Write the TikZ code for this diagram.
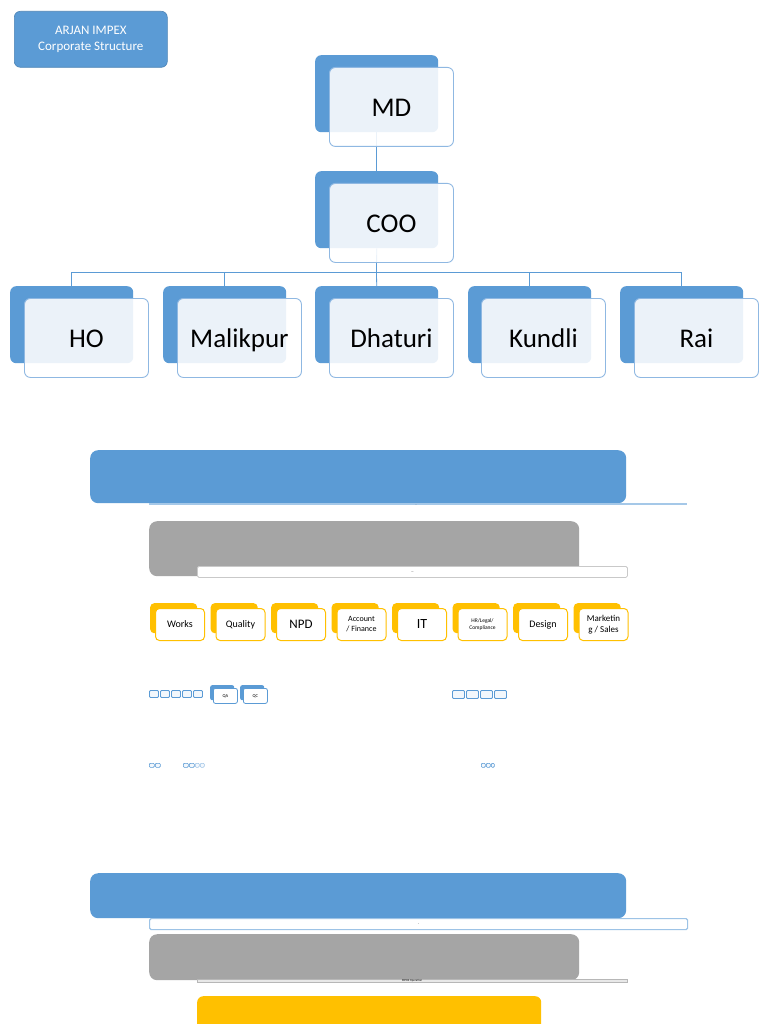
\documentclass[tikz,border=0pt]{standalone}
\usepackage{fontspec}
\setmainfont{Carlito}
\definecolor{bl}{HTML}{5B9BD5}
\definecolor{bf}{HTML}{8FB8E2}
\definecolor{yel}{HTML}{FFC000}
\definecolor{gr}{HTML}{A5A5A5}
\tikzset{
 back/.style={draw=none, fill=bl, rounded corners=6pt, anchor=north west, inner sep=0pt, minimum width=123pt, minimum height=77pt},
 front/.style={draw=bf, line width=0.9pt, fill=white, fill opacity=0.88, text opacity=1, rounded corners=6pt, anchor=north west, inner sep=0pt, minimum width=124pt, minimum height=79pt, font=\fontsize{27}{30}\selectfont, text height=26pt, text depth=6pt},
 conn/.style={draw=bl, line width=0.8pt},
 bar/.style={fill=bl, rounded corners=8pt, anchor=north west, inner sep=0pt},
 gbar/.style={fill=gr, rounded corners=8pt, anchor=north west, inner sep=0pt},
 ythin/.style={anchor=north west, inner sep=0pt},
 yback/.style={fill=yel, rounded corners=4pt, anchor=north west, inner sep=0pt, minimum width=47pt, minimum height=30pt},
 yfront/.style={draw=yel, line width=1pt, fill=white, rounded corners=4pt, anchor=north west, inner sep=0pt, minimum width=49pt, minimum height=32pt, align=center},
 tiny/.style={draw=bl, line width=0.9pt, fill=bl!8, rounded corners=1pt, anchor=north west, inner sep=0pt},
 sback/.style={fill=bl, rounded corners=2pt, anchor=north west, inner sep=0pt, minimum width=24pt, minimum height=15pt},
 sfront/.style={draw=bl, line width=0.8pt, fill=white, rounded corners=2pt, anchor=north west, inner sep=0pt, minimum width=24pt, minimum height=15pt, font=\fontsize{4.5}{5}\selectfont},
}
\begin{document}
\begin{tikzpicture}[x=1pt,y=-1pt]
\clip (0,0) rectangle (768,1024);
\fill[white] (0,0) rectangle (768,1024);

% title
\node[fill=bl, draw=bl!85!black, line width=0.6pt, rounded corners=6pt, anchor=north west, inner sep=0pt,
  minimum width=153pt, minimum height=56pt, text=white, align=center, font=\fontsize{13}{16}\selectfont] (title) at (14,11) {ARJAN IMPEX\\Corporate Structure};

% back boxes
\node[back] (mdB) at (315,55) {};
\node[back] (cooB) at (315,171) {};
\node[back] (hoB) at (10,286) {};
\node[back] (malB) at (163,286) {};
\node[back] (dhaB) at (315,286) {};
\node[back] (kunB) at (468,286) {};
\node[back] (raiB) at (620,286) {};

% connectors
\coordinate (bus) at (376.5,272);
\draw[conn] (mdB.south) -- (cooB.north);
\draw[conn] (cooB.south) -- (bus);
\draw[conn] (bus) -| (hoB.north);
\draw[conn] (bus) -| (malB.north);
\draw[conn] (bus) -- (dhaB.north);
\draw[conn] (bus) -| (kunB.north);
\draw[conn] (bus) -| (raiB.north);

% front boxes
\node[front] (mdF) at (329,67) {MD};
\node[front] (cooF) at (329,183) {COO};
\node[front] (hoF) at (24,298) {HO};
\node[front] (malF) at (177,298) {Malikpur};
\node[front] (dhaF) at (329,298) {Dhaturi};
\node[front] (kunF) at (481,298) {Kundli};
\node[front] (raiF) at (634,298) {Rai};

% middle section
\node[bar, minimum width=536pt, minimum height=53pt] (bar1) at (90,450) {};
\node[ythin, fill=bl!55, minimum width=538pt, minimum height=2pt] (line1) at (149,503) {};
\node[font=\fontsize{3}{3}\selectfont, inner sep=0pt, text=black!70] (mark1) at (416,505) {--};
\node[gbar, minimum width=430pt, minimum height=55pt] (gray1) at (149,521) {};
\node[ythin, draw=gr!60, line width=0.8pt, fill=white, rounded corners=1.5pt, minimum width=430pt, minimum height=11pt, font=\fontsize{3}{3}\selectfont] (gline1) at (197,566) {---};

% yellow departments
\node[yback] (w1) at (150,603) {};
\node[yback] (w2) at (210.5,603) {};
\node[yback] (w3) at (271,603) {};
\node[yback] (w4) at (331.5,603) {};
\node[yback] (w5) at (392,603) {};
\node[yback] (w6) at (452.5,603) {};
\node[yback] (w7) at (513,603) {};
\node[yback] (w8) at (573.5,603) {};
\node[yfront, font=\fontsize{10}{12}\selectfont] (d1) at (155,608) {Works};
\node[yfront, font=\fontsize{10}{12}\selectfont] (d2) at (215.5,608) {Quality};
\node[yfront, font=\fontsize{13}{15}\selectfont] (d3) at (276,608) {NPD};
\node[yfront, font=\fontsize{8}{10}\selectfont] (d4) at (336.5,608) {Account\\/ Finance};
\node[yfront, font=\fontsize{14}{16}\selectfont] (d5) at (397,608) {IT};
\node[yfront, font=\fontsize{5.5}{7}\selectfont] (d6) at (457.5,608) {HR/Legal/\\Compliance};
\node[yfront, font=\fontsize{10}{12}\selectfont] (d7) at (518,608) {Design};
\node[yfront, font=\fontsize{9}{11}\selectfont] (d8) at (578.5,608) {Marketin\\g / Sales};

% small boxes row
\node[tiny, minimum width=9pt, minimum height=7pt] (s1) at (149,690) {};
\node[tiny, minimum width=9pt, minimum height=7pt] (s2) at (160,690) {};
\node[tiny, minimum width=9pt, minimum height=7pt] (s3) at (171,690) {};
\node[tiny, minimum width=9pt, minimum height=7pt] (s4) at (182,690) {};
\node[tiny, minimum width=9pt, minimum height=7pt] (s5) at (193,690) {};
\node[sback] (qaB) at (210,685) {};
\node[sfront] (qaF) at (213,688) {QA};
\node[sback] (qcB) at (240,685) {};
\node[sfront] (qcF) at (243,688) {QC};
\node[tiny, minimum width=12pt, minimum height=8pt] (r1) at (452,690) {};
\node[tiny, minimum width=12pt, minimum height=8pt] (r2) at (466,690) {};
\node[tiny, minimum width=12pt, minimum height=8pt] (r3) at (480,690) {};
\node[tiny, minimum width=12pt, minimum height=8pt] (r4) at (494,690) {};

% tiny row
\node[tiny, line width=0.6pt, minimum width=5pt, minimum height=4pt] (t1) at (149,763) {};
\node[tiny, line width=0.6pt, minimum width=5pt, minimum height=4pt] (t2) at (155,763) {};
\node[tiny, line width=0.6pt, minimum width=5pt, minimum height=4pt] (t3) at (183,763) {};
\node[tiny, line width=0.6pt, minimum width=5pt, minimum height=4pt] (t4) at (189,763) {};
\node[tiny, line width=0.5pt, draw=bl!60, minimum width=4pt, minimum height=4pt] (t5) at (195,763) {};
\node[tiny, line width=0.5pt, draw=bl!60, minimum width=4pt, minimum height=4pt] (t6) at (200,763) {};
\node[tiny, line width=0.6pt, minimum width=4pt, minimum height=4pt] (t7) at (481,763) {};
\node[tiny, line width=0.6pt, minimum width=4pt, minimum height=4pt] (t8) at (486,763) {};
\node[tiny, line width=0.6pt, minimum width=3pt, minimum height=4pt] (t9) at (491,763) {};

% bottom section
\node[bar, minimum width=536pt, minimum height=45pt] (bar2) at (90,873) {};
\node[ythin, draw=bl!60, line width=1.2pt, fill=white, rounded corners=1.5pt, minimum width=538pt, minimum height=11pt, font=\fontsize{3}{3}\selectfont] (line2) at (149,918) {--};
\node[gbar, minimum width=430pt, minimum height=46pt] (gray2) at (149,934) {};
\node[ythin, draw=gr!80, line width=0.6pt, fill=gr!25, minimum width=430pt, minimum height=3pt] (gline2) at (197,979) {};
\node[font=\fontsize{3}{3}\selectfont, inner sep=0pt] (op) at (412,980.5) {MPCB Operation};
\node[fill=yel, rounded corners=6pt, anchor=north west, inner sep=0pt, minimum width=344pt, minimum height=50pt] (ybar) at (197,996) {};
\end{tikzpicture}
\end{document}
